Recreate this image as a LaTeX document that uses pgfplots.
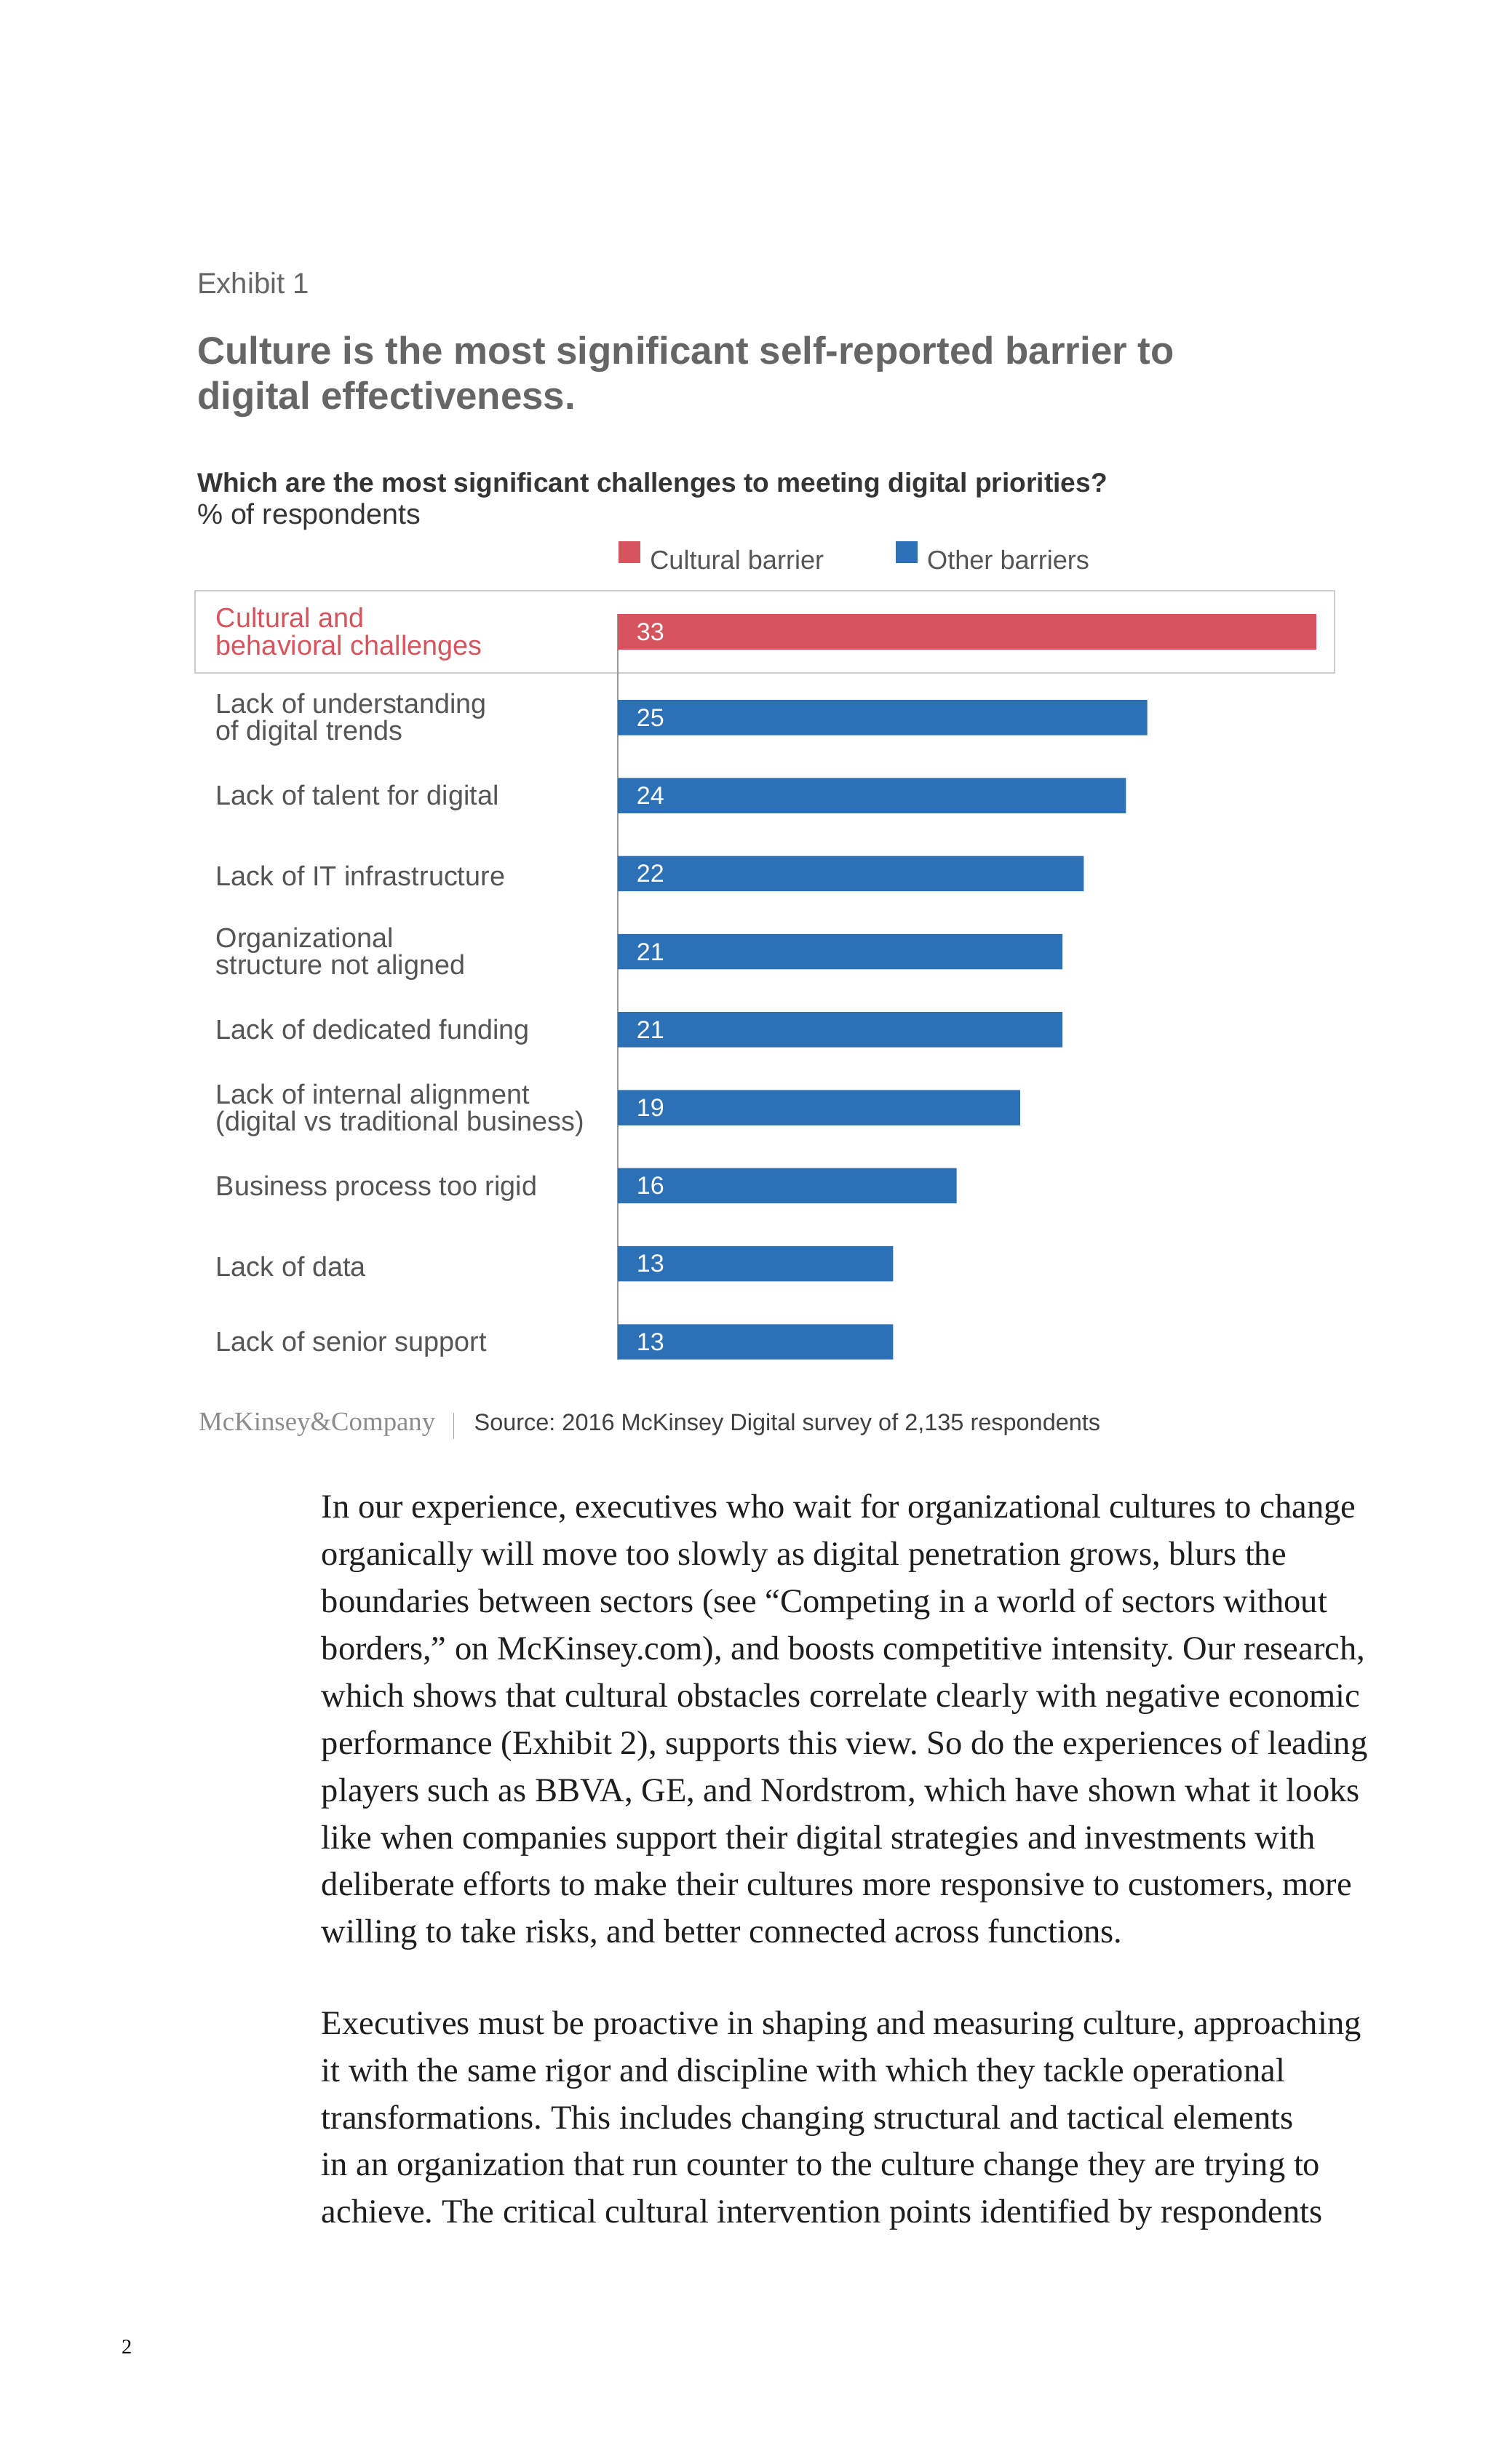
\documentclass[border=0pt]{standalone}
\usepackage{fontspec}
\setmainfont{Liberation Serif}
\setsansfont{Liberation Sans}
\newfontfamily\hv{Liberation Sans}
\usepackage{pgfplots}
\pgfplotsset{compat=1.18}
\frenchspacing

\definecolor{culturered}{HTML}{D6545E}
\definecolor{otherblue}{HTML}{2C70B6}
\definecolor{labelgray}{HTML}{555555}
\definecolor{titlegray}{HTML}{666666}
\definecolor{bodyblack}{HTML}{1E1E1E}

\begin{document}
\begin{tikzpicture}
% page frame and text, in pixels of a 947 px wide page
\begin{scope}[x=0.64625pt, y=-0.64625pt]
\path[use as bounding box, fill=white] (0,0) rectangle (947,1566.15);
\node[anchor=base west, inner sep=0, text=titlegray, font=\hv\fontsize{12}{14}\selectfont] at (125,186.4) {Exhibit 1};
\node[anchor=base west, inner sep=0, text=titlegray, font=\hv\bfseries\fontsize{15.8}{18}\selectfont] at (125,231.3) {Culture is the most significant self-reported barrier to};
\node[anchor=base west, inner sep=0, text=titlegray, font=\hv\bfseries\fontsize{15.8}{18}\selectfont] at (125,259.9) {digital effectiveness.};
\node[anchor=base west, inner sep=0, text=bodyblack!90, font=\hv\bfseries\fontsize{11.1}{13}\selectfont] at (125,313) {Which are the most significant challenges to meeting digital priorities?};
\node[anchor=base west, inner sep=0, text=bodyblack!90, font=\hv\fontsize{11.8}{13}\selectfont] at (125,333) {\% of respondents};
% highlight box round the cultural row
\draw[draw=black!20, line width=0.6pt, fill=white] (124.1,375.3) rectangle (847.9,427.7);
% footer
\node[anchor=base west, inner sep=0, text=black!45, font=\fontsize{11}{12}\selectfont] at (126,909.3) {McKinsey\&Company};
\draw[black!35, line width=0.4pt] (288.3,897.8) -- (288.3,914.6);
\node[anchor=base west, inner sep=0, text=black!75, font=\hv\fontsize{9.7}{12}\selectfont] at (301,909.3) {Source: 2016 McKinsey Digital survey of 2,135 respondents};
% body text
\begin{scope}[every node/.style={anchor=base west, inner sep=0, text=bodyblack, font=\fontsize{13.9}{19.4}\selectfont}]
\node at (204,965) {In our experience, executives who wait for organizational cultures to change};
\node at (204,995) {organically will move too slowly as digital penetration grows, blurs the};
\node at (204,1025) {boundaries between sectors (see “Competing in a world of sectors without};
\node at (204,1055) {borders,” on McKinsey.com), and boosts competitive intensity. Our research,};
\node at (204,1085) {which shows that cultural obstacles correlate clearly with negative economic};
\node at (204,1115) {performance (Exhibit 2), supports this view. So do the experiences of leading};
\node at (204,1145) {players such as BBVA, GE, and Nordstrom, which have shown what it looks};
\node at (204,1175) {like when companies support their digital strategies and investments with};
\node at (204,1205) {deliberate efforts to make their cultures more responsive to customers, more};
\node at (204,1235) {willing to take risks, and better connected across functions.};
\node at (204,1293) {Executives must be proactive in shaping and measuring culture, approaching};
\node at (204,1323) {it with the same rigor and discipline with which they tackle operational};
\node at (204,1353) {transformations. This includes changing structural and tactical elements};
\node at (204,1383) {in an organization that run counter to the culture change they are trying to};
\node at (204,1413) {achieve. The critical cultural intervention points identified by respondents};
\end{scope}
\node[anchor=base west, inner sep=0, text=black, font=\fontsize{8.5}{10}\selectfont] at (77,1496.3) {2};
\end{scope}

\begin{axis}[
  at={(253.65pt,-252.23pt)}, anchor=north west,
  scale only axis,
  width=287.07pt, height=306.19pt,
  xmin=0, xmax=33,
  ymin=-0.2258, ymax=9.3258,
  y dir=reverse,
  axis x line=none,
  axis y line=left,
  y axis line style={-, draw=black!40, line width=0.6pt},
  xtick=\empty,
  ytick={0,1.1,2.1,3.1,4.1,5.1,6.1,7.1,8.1,9.1},
  yticklabels={
    {\textcolor{culturered}{Cultural and}\\\textcolor{culturered}{behavioral challenges}},
    {Lack of understanding\\of digital trends},
    {Lack of talent for digital},
    {Lack of IT infrastructure},
    {Organizational\\structure not aligned},
    {Lack of dedicated funding},
    {Lack of internal alignment\\(digital vs traditional business)},
    {Business process too rigid},
    {Lack of data},
    {Lack of senior support}},
  major tick length=0pt,
  ytick style={draw=none},
  yticklabel style={anchor=west, align=left, inner sep=0pt, xshift=-165.12pt, yshift=-1pt,
    text=labelgray, font=\hv\fontsize{11.3}{11.1}\selectfont},
  clip=false,
  legend columns=2,
  legend style={draw=none, fill=none, inner sep=0pt, outer sep=0pt,
    at={(0,1)}, anchor=south west, yshift=17.0pt, xshift=0.3pt,
    nodes={inner sep=0pt}, font=\hv\fontsize{10.8}{12}\selectfont, text=labelgray,
    /tikz/every odd column/.append style={column sep=3.9pt}},
  legend image code/.code={\fill[#1, draw=none] (0pt,-0.8pt) rectangle (9.1pt,8.3pt);},
]
\addplot[xbar, bar shift=0pt, bar width=14.48pt, fill=culturered, draw=none]
  coordinates {(33,0)};
\addlegendentry{\makebox[100.8pt][l]{Cultural barrier}}
\addplot[xbar, bar shift=0pt, bar width=14.48pt, fill=otherblue, draw=none]
  coordinates {(25,1.1) (24,2.1) (22,3.1) (21,4.1) (21,5.1) (19,6.1) (16,7.1) (13,8.1) (13,9.1)};
\addlegendentry{Other barriers}
\addplot[draw=none, mark=none, forget plot, nodes near coords, point meta=explicit,
  /pgf/number format/assume math mode=true,
  every node near coord/.style={anchor=west, inner sep=0pt, xshift=7.6pt, text=white,
    font=\hv\fontsize{10.2}{11}\selectfont}]
  coordinates {(0,0) [33] (0,1.1) [25] (0,2.1) [24] (0,3.1) [22] (0,4.1) [21]
    (0,5.1) [21] (0,6.1) [19] (0,7.1) [16] (0,8.1) [13] (0,9.1) [13]};
\end{axis}
\end{tikzpicture}
\end{document}
